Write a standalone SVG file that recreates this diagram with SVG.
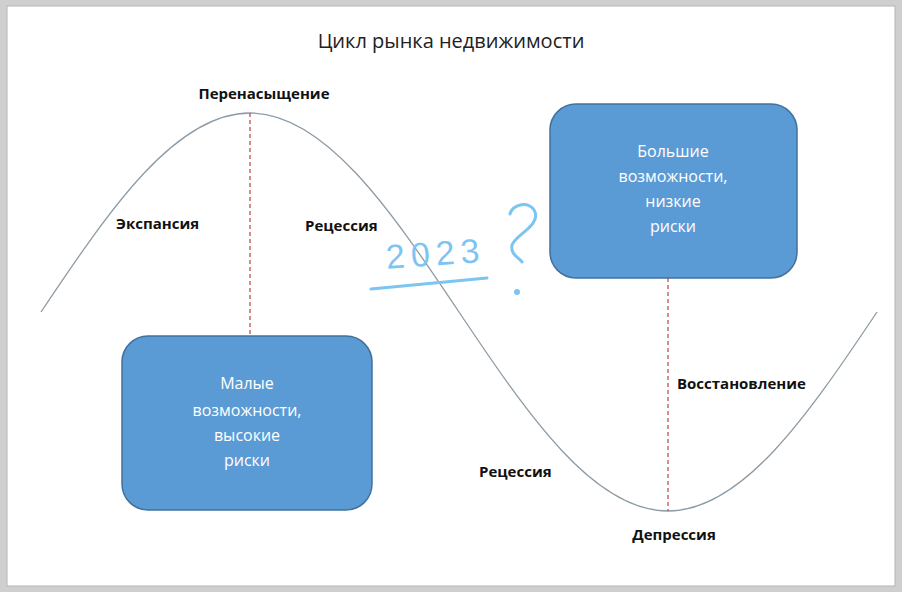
<svg xmlns="http://www.w3.org/2000/svg" width="902" height="592" viewBox="0 0 902 592">
<style>
.lbl{font-family:"Open Sans","Liberation Sans",sans-serif;font-size:15px;font-weight:bold;fill:#111}
.box{fill:#5b9bd5;stroke:#41719c;stroke-width:1.5}
.bt{font-family:"Open Sans","Liberation Sans",sans-serif;font-size:16px;fill:#fff;text-anchor:middle}
.hand{fill:none;stroke:#7cc4f2;stroke-width:3;stroke-linecap:round}
</style>
<rect width="902" height="592" fill="#cfcfcf"/>
<rect x="7" y="6" width="888" height="580" fill="#fff" stroke="#b5b5b5"/>
<text x="451" y="48" text-anchor="middle" font-family="Open Sans,Liberation Sans,sans-serif" font-size="20" fill="#222">Цикл рынка недвижимости</text>
<g id="connectors">
<path d="M41,312 C110.9,207.5 176,113 250,113 C324,113 389.1,207.5 459,312 C528.9,416.5 594,511 668,511 C742,511 807.1,416.5 877,312" fill="none" stroke="#8d9ba5" stroke-width="1.3"/>
<line x1="250" y1="113" x2="250" y2="336" stroke="#c0504d" stroke-width="1.3" stroke-dasharray="4,3"/>
<line x1="668" y1="278" x2="668" y2="511" stroke="#c0504d" stroke-width="1.3" stroke-dasharray="4,3"/>
</g>
<g id="box-small">
<rect class="box" x="122" y="336" width="250" height="174" rx="26"/>
<text class="bt" x="247" y="389">Малые</text>
<text class="bt" x="247" y="416">возможности,</text>
<text class="bt" x="247" y="441">высокие</text>
<text class="bt" x="247" y="466">риски</text>
</g>
<g id="box-big">
<rect class="box" x="550" y="104" width="247" height="174" rx="26"/>
<text class="bt" x="673" y="157">Большие</text>
<text class="bt" x="673" y="182">возможности,</text>
<text class="bt" x="673" y="207">низкие</text>
<text class="bt" x="673" y="232">риски</text>
</g>
<g id="labels">
<text class="lbl" x="264" y="99" text-anchor="middle">Перенасыщение</text>
<text class="lbl" x="116" y="229">Экспансия</text>
<text class="lbl" x="305" y="231">Рецессия</text>
<text class="lbl" x="479" y="477">Рецессия</text>
<text class="lbl" x="677" y="389">Восстановление</text>
<text class="lbl" x="674" y="540" text-anchor="middle">Депрессия</text>
</g>
<g id="handwriting">
<text x="386" y="265" font-family="Liberation Sans,sans-serif" font-size="34" fill="#7cc4f2" letter-spacing="6" transform="rotate(-4 440 255)">2023</text>
<path class="hand" d="M371,289 C420,284 455,281 487,278"/>
<path class="hand" d="M510,214 C512,204 530,200 535,212 C540,226 515,235 512,245 C510,255 520,258 522,262"/>
<circle cx="517" cy="292" r="3" fill="#7cc4f2"/>
</g>
</svg>
